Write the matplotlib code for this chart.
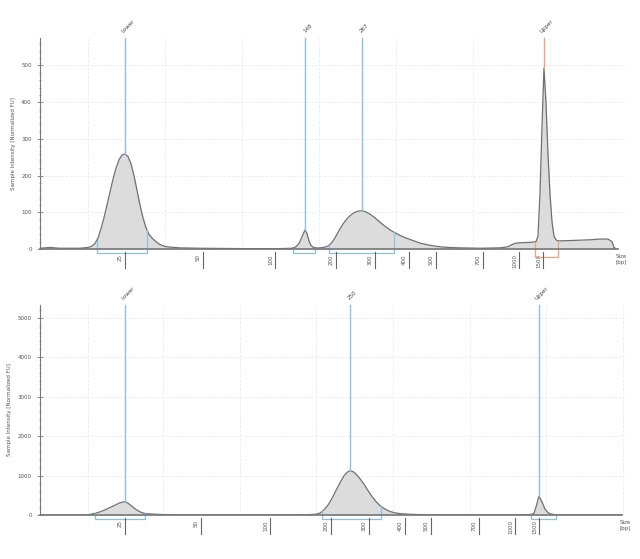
import matplotlib
matplotlib.use("Agg")
import matplotlib.pyplot as plt
import numpy as np
from matplotlib.ticker import MultipleLocator

# ---------------- data: top electropherogram ----------------
# x = migration position (arbitrary run units), y = Sample Intensity [Normalized FU]
top_x = [40, 45, 50, 55, 60, 70, 80, 88, 92, 95, 98, 101, 104, 107, 110, 113, 116, 119, 122, 125,
         128, 131, 134, 137, 140, 143, 146, 149, 152, 156, 160, 165, 170, 180, 200, 240, 280,
         292, 296, 299, 302, 305, 307, 309, 311, 313, 316, 320, 325, 328, 331, 334, 337, 340,
         343, 346, 349, 352, 355, 358, 362, 366, 370, 375, 380, 385, 390, 395, 400, 405, 410,
         415, 420, 425, 430, 440, 450, 460, 480, 500, 508, 512, 516, 522, 530, 536, 538, 540,
         542, 544, 546, 548, 550, 552, 554, 556, 558, 570, 580, 590, 600, 608, 612, 614, 616]
top_y = [2, 3, 4, 3, 2, 2, 2, 4, 8, 15, 30, 55, 85, 120, 155, 190, 220, 243, 256, 259,
         252, 232, 200, 160, 120, 85, 58, 40, 30, 20, 12, 7, 5, 3, 2, 1, 1,
         2, 6, 15, 33, 52, 42, 22, 10, 5, 3, 3, 5, 8, 15, 26, 40, 55,
         68, 79, 88, 95, 100, 103, 104, 101, 95, 85, 73, 62, 52, 44, 37, 31, 26,
         21, 16, 13, 10, 6, 4, 3, 2, 3, 6, 12, 16, 17, 18, 20, 35, 150,
         330, 493, 400, 260, 150, 75, 35, 25, 22, 23, 24, 25, 27, 27, 20, 5, 0]
top_peak_labels = ["Lower", "148", "267", "Upper"]
top_peak_pos = [125, 305, 362, 544]
top_peak_height = [259, 52, 104, 493]
top_region_lo = [97, 293, 329, 535]
top_region_hi = [147, 315, 394, 558]
top_tick_labels = ["25", "50", "100", "200", "300", "400", "500", "700", "1000", "1500"]
top_tick_pos = [125, 203, 275, 336, 375, 409, 436, 483, 519, 543]

# ---------------- data: bottom electropherogram ----------------
bot_x = [40, 80, 88, 95, 100, 105, 110, 115, 120, 125, 128, 132, 136, 140, 144, 148, 155, 165,
         180, 250, 300, 310, 316, 320, 324, 328, 332, 336, 340, 344, 347, 350, 353, 356, 360,
         364, 368, 372, 376, 380, 385, 390, 395, 400, 410, 420, 440, 480, 520, 530, 534, 536,
         539, 542, 545, 548, 551, 555, 560, 600, 622]
bot_y = [0, 0, 5, 40, 80, 130, 190, 250, 310, 337, 300, 220, 140, 80, 45, 30, 20, 10,
         5, 2, 5, 10, 20, 50, 130, 250, 420, 620, 820, 990, 1080, 1121, 1100, 1040, 920,
         780, 620, 470, 340, 240, 150, 90, 55, 35, 18, 10, 5, 4, 5, 10, 40, 200,
         481, 330, 150, 60, 25, 10, 5, 3, 3]
bot_peak_labels = ["Lower", "250", "Upper"]
bot_peak_pos = [125, 350, 539]
bot_peak_height = [337, 1121, 481]
bot_region_lo = [95, 322, 531]
bot_region_hi = [145, 381, 556]
bot_tick_labels = ["25", "50", "100", "200", "300", "400", "500", "700", "1000", "1500"]
bot_tick_pos = [125, 201, 270, 331, 369, 405, 431, 479, 515, 539]

BLUE = "#8ec0e4"
ORANGE = "#f0a080"
GRID = "#e6eaef"
TXT = "#555555"

fig = plt.figure(figsize=(6.4, 5.59), dpi=100)


def panel(rect, xs, ys, ymax, ystep, yminor, labels, ppos, pheight, rlo, rhi,
          tlabels, tpos, gridx, rcolors, xmax_axis):
    ax = fig.add_axes(rect)
    ax.set_xlim(40, 625)
    ax.set_ylim(0, ymax)
    for gx in gridx:
        ax.axvline(gx, color=GRID, lw=0.6, ls=(0, (3, 2)), zorder=0)
    ax.yaxis.set_major_locator(MultipleLocator(ystep))
    ax.yaxis.set_minor_locator(MultipleLocator(yminor))
    ax.grid(axis="y", which="major", color=GRID, lw=0.6, ls=(0, (3, 2)), zorder=0)
    # trace
    ax.fill_between(xs, ys, 0, color="#dcdcdc", zorder=2, lw=0)
    ax.plot(xs, ys, color="#707070", lw=0.9, zorder=3)
    # peak markers
    for lab, p, h, c in zip(labels, ppos, pheight, rcolors):
        ax.plot([p, p], [h, ymax], color=c, lw=1.0, zorder=4, clip_on=False)
        ax.annotate(lab, xy=(p, ymax), xytext=(2, 3), textcoords="offset points",
                    rotation=45, fontsize=4, color="#444444", ha="center", va="bottom",
                    annotation_clip=False)
    # region brackets: edges rise from below the baseline up to the trace
    for lo, hi, c in zip(rlo, rhi, rcolors):
        ybot = -ymax * 0.019 if c == BLUE else -ymax * 0.038
        ylo_edge = max(np.interp(lo, xs, ys), ymax * 0.004)
        yhi_edge = max(np.interp(hi, xs, ys), ymax * 0.004)
        ax.plot([lo, lo, hi, hi], [ylo_edge, ybot, ybot, yhi_edge],
                color=c, lw=0.9, zorder=4, clip_on=False)
    for s in ["top", "right", "bottom"]:
        ax.spines[s].set_visible(False)
    ax.spines["left"].set_color("#777777")
    ax.plot([40, xmax_axis], [0, 0], color="#777777", lw=1.2, zorder=5, clip_on=False)
    ax.tick_params(axis="y", which="major", direction="inout", length=4, width=0.6,
                   colors="#777777", labelsize=4, labelcolor=TXT, pad=4)
    ax.tick_params(axis="y", which="minor", direction="inout", length=2, width=0.5,
                   colors="#777777")
    ax.set_xticks([])
    # x tick labels with vertical tick lines below baseline
    for lab, p in zip(tlabels, tpos):
        ax.plot([p, p], [-ymax * 0.015, -ymax * 0.09], color="#666666", lw=0.8,
                clip_on=False, zorder=5)
        ax.text(p - 2, -ymax * 0.025, lab, rotation=90, fontsize=4, color=TXT,
                ha="right", va="top")
    ax.text(xmax_axis - 2, -ymax * 0.025, "Size\n[bp]", fontsize=4, color=TXT,
            ha="left", va="top", linespacing=1.2)
    ax.set_ylabel("Sample Intensity [Normalized FU]", fontsize=4, color=TXT, labelpad=4)
    return ax


panel([0.0625, 0.5546, 0.914, 0.3775], top_x, top_y, 575, 100, 20,
      top_peak_labels, top_peak_pos, top_peak_height, top_region_lo, top_region_hi,
      top_tick_labels, top_tick_pos, [88, 165, 242, 319, 396, 473, 550, 625],
      [BLUE, BLUE, BLUE, ORANGE], 618)

panel([0.0625, 0.0787, 0.914, 0.3757], bot_x, bot_y, 5320, 1000, 200,
      bot_peak_labels, bot_peak_pos, bot_peak_height, bot_region_lo, bot_region_hi,
      bot_tick_labels, bot_tick_pos, [88, 163, 240, 316, 393, 470, 546, 623],
      [BLUE, BLUE, BLUE], 622)

fig.savefig("out.png", dpi=100)
